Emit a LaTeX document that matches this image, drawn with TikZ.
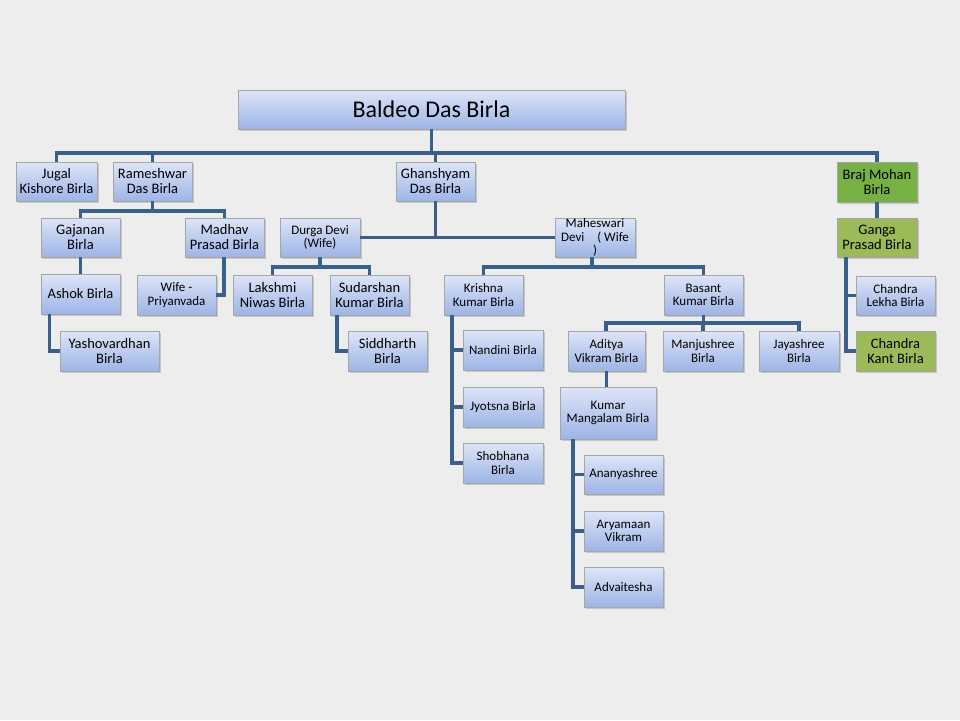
\documentclass[tikz,border=0pt]{standalone}
\usepackage{fontspec}
\setmainfont{Carlito}
\usetikzlibrary{shadows}
\definecolor{ln}{HTML}{3A5F8A}
\definecolor{bt}{HTML}{DDE5F8}
\definecolor{bb}{HTML}{9DB4E6}
\definecolor{gr}{HTML}{77B043}
\definecolor{ol}{HTML}{9BBB59}
\tikzset{
 bx/.style={draw=gray!70, top color=bt, bottom color=bb, inner sep=0pt, align=center, font=\fontsize{14.5}{15}\selectfont, drop shadow={shadow xshift=1.5pt, shadow yshift=-1.5pt, opacity=0.35}},
 sm/.style={bx, font=\fontsize{13}{13.5}\selectfont},
 grbox/.style={bx, top color=gr, bottom color=gr},
 olbox/.style={bx, top color=ol, bottom color=ol},
 conn/.style={draw=ln, line width=3.5pt},
}
\newcommand\bx[7][bx]{\node[#1, minimum width={#4-#2}, minimum height={#5-#3}] (#6) at ({(#2+#4)/2},{(#3+#5)/2}) {#7};}
\begin{document}
\begin{tikzpicture}[x=1pt,y=-1pt]
\fill[white!93!black] (0,0) rectangle (960,720);
\useasboundingbox (0,0) rectangle (960,720);
\coordinate (b1) at (0,153);
\coordinate (b2) at (0,211);
\coordinate (b3) at (0,267);
\coordinate (b4) at (0,323);
\coordinate (g1) at (0,237);
\bx[bx,font=\fontsize{24}{26}\selectfont]{238}{90}{625}{129}{root}{Baldeo Das Birla}
\bx{16}{162}{97}{201}{jug}{Jugal\\Kishore Birla}
\bx{113}{162}{192}{201}{ram}{Rameshwar\\Das Birla}
\bx{396}{162}{475}{201}{gha}{Ghanshyam\\Das Birla}
\bx[grbox]{837}{162}{917}{202}{bra}{Braj Mohan\\Birla}
\bx{41}{218}{120}{257}{gaj}{Gajanan\\Birla}
\bx{185}{218}{264}{257}{mad}{Madhav\\Prasad Birla}
\bx[sm]{280}{218}{360}{257}{dur}{Durga Devi\\(Wife)}
\bx[sm]{555}{218}{635}{257}{mah}{Maheswari\\Devi\quad( Wife\\)}
\bx[olbox]{837}{218}{917}{257}{gan}{Ganga\\Prasad Birla}
\bx{41}{274}{120}{314}{ash}{Ashok Birla}
\bx[sm]{137}{275}{216}{315}{wif}{Wife -\\Priyanvada}
\bx{233}{275}{312}{315}{lak}{Lakshmi\\Niwas Birla}
\bx{330}{275}{409}{315}{sud}{Sudarshan\\Kumar Birla}
\bx[sm]{444}{275}{523}{315}{kri}{Krishna\\Kumar Birla}
\bx[sm]{664}{275}{743}{315}{bas}{Basant\\Kumar Birla}
\bx[sm]{856}{276}{935}{315}{cle}{Chandra\\Lekha Birla}
\bx{60}{331}{159}{371}{yas}{Yashovardhan\\Birla}
\bx{348}{331}{427}{371}{sid}{Siddharth\\Birla}
\bx[sm]{463}{330}{543}{370}{nan}{Nandini Birla}
\bx[sm]{568}{331}{645}{371}{adi}{Aditya\\Vikram Birla}
\bx[sm]{663}{331}{743}{371}{man}{Manjushree\\Birla}
\bx[sm]{759}{331}{839}{371}{jay}{Jayashree\\Birla}
\bx[olbox]{856}{331}{935}{371}{cka}{Chandra\\Kant Birla}
\bx[sm]{463}{387}{543}{427}{jyo}{Jyotsna Birla}
\bx[sm]{560}{387}{656}{439}{kum}{Kumar\\Mangalam Birla}
\bx[sm]{463}{443}{543}{483}{sho}{Shobhana\\Birla}
\bx[sm]{584}{455}{663}{494}{ana}{Ananyashree}
\bx[sm]{584}{511}{663}{551}{ary}{Aryamaan\\Vikram}
\bx[sm]{584}{567}{663}{607}{adv}{Advaitesha}
\path[conn] (root.south) -- (root.south|-b1);
\path[conn] (jug.north) -- (jug.north|-b1) -- (bra.north|-b1) -- (bra.north);
\path[conn] (ram.north) -- (ram.north|-b1);
\path[conn] (gha.north) -- (gha.north|-b1);
\path[conn] (ram.south) -- (ram.south|-b2);
\path[conn] (gaj.north) -- (gaj.north|-b2) -- (mad.north|-b2) -- (mad.north);
\path[conn] (gha.south) -- (gha.south|-g1);
\path[conn] (dur.east) -- (mah.west);
\path[conn] (gaj.south) -- (ash.north);
\path[conn] ([xshift=-31pt]ash.south) |- (yas.west);
\path[conn] ([xshift=-0.5pt]mad.south) |- (wif.east);
\path[conn] (dur.south) -- (dur.south|-b3);
\path[conn] (lak.north) -- (lak.north|-b3) -- (sud.north|-b3) -- (sud.north);
\path[conn] ([xshift=-32.5pt]sud.south) |- (sid.west);
\path[conn] ([xshift=-3pt]mah.south) -- ([xshift=-3pt]mah.south|-b3);
\path[conn] (kri.north) -- (kri.north|-b3) -- (bas.north|-b3) -- (bas.north);
\path[conn] ([xshift=-31.5pt]kri.south) |- (sho.west);
\path[conn] ([xshift=-31.5pt]kri.south|-nan.west) -- (nan.west);
\path[conn] ([xshift=-31.5pt]kri.south|-jyo.west) -- (jyo.west);
\path[conn] (bas.south) -- (bas.south|-b4);
\path[conn] ([xshift=-0.5pt]adi.north) -- ([xshift=-0.5pt]adi.north|-b4) -- (jay.north|-b4) -- (jay.north);
\path[conn] (man.north) -- (man.north|-b4);
\path[conn] (adi.south) -- (adi.south|-kum.north);
\path[conn] ([xshift=-35pt]kum.south) |- (adv.west);
\path[conn] ([xshift=-35pt]kum.south|-ana.west) -- (ana.west);
\path[conn] ([xshift=-35pt]kum.south|-ary.west) -- (ary.west);
\path[conn] (bra.south) -- (gan.north);
\path[conn] ([xshift=-31pt]gan.south) |- (cka.west);
\path[conn] ([xshift=-31pt]gan.south|-cle.west) -- (cle.west);
\end{tikzpicture}
\end{document}
